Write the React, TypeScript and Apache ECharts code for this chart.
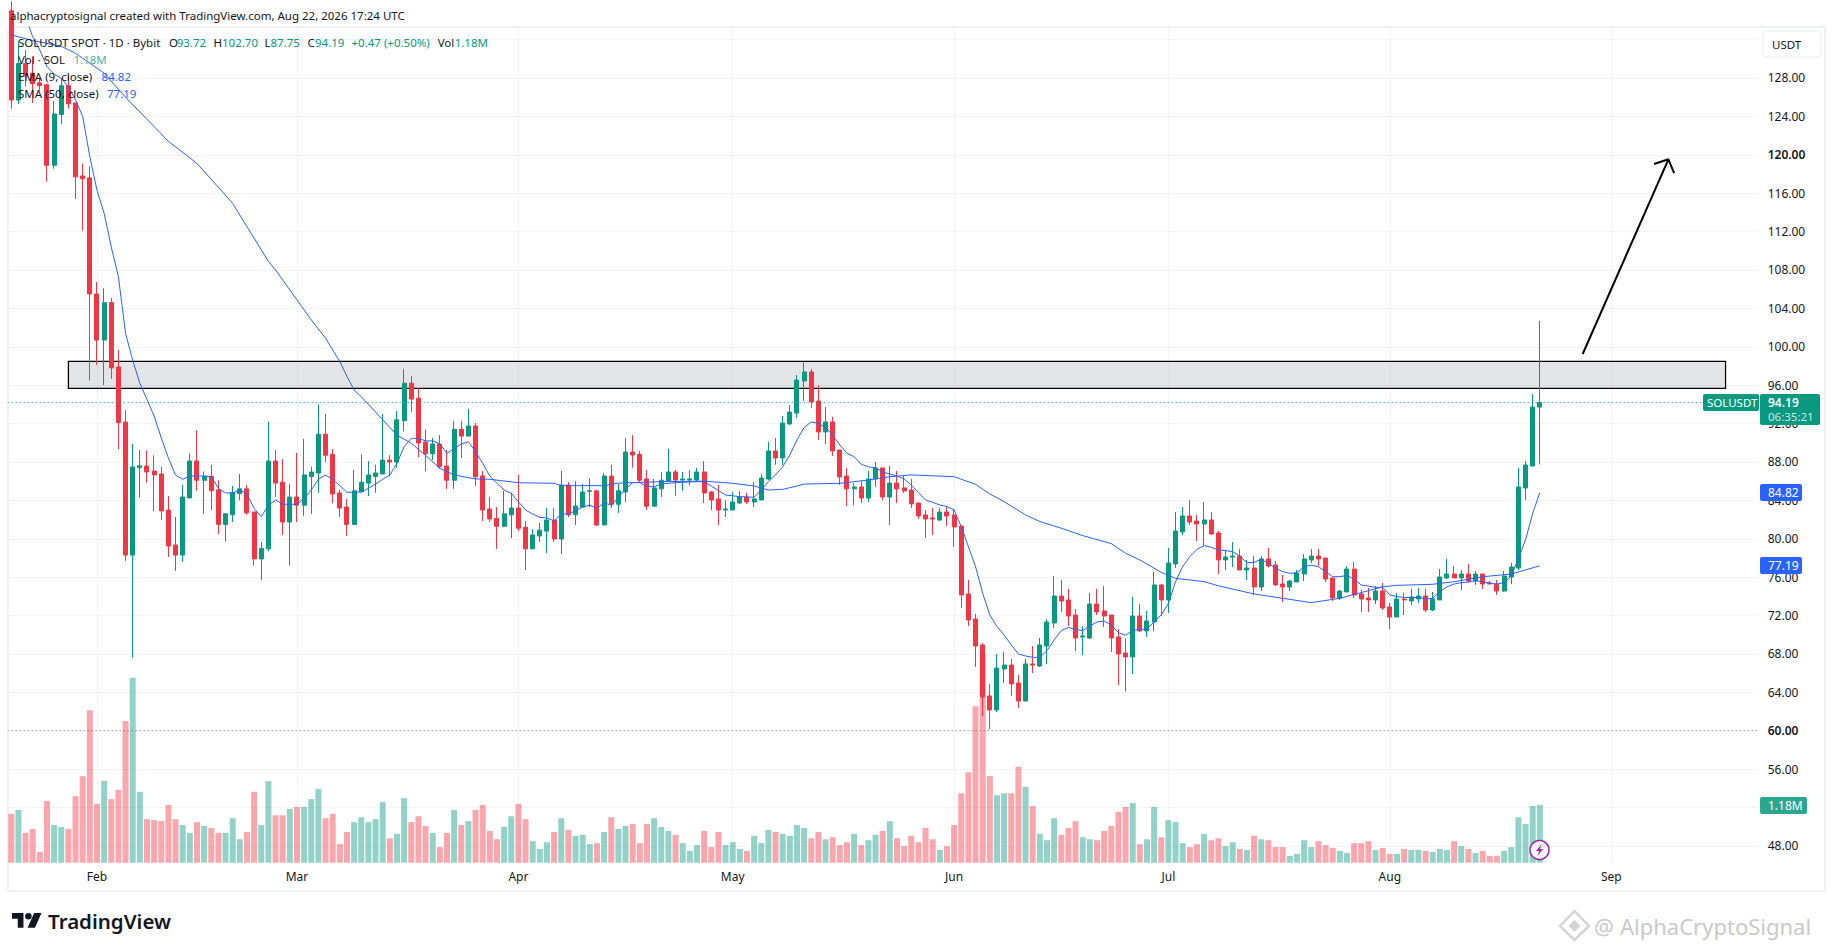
import {useEffect, useRef} from 'react';
import * as echarts from 'echarts';

const UP = '#089981';
const DOWN = '#F23645';
const BLUE = '#2962FF';
const TEXT = '#131722';
const GRID = '#f2f3f6';
const FONT = '"Noto Sans", sans-serif';

// one candle per day, first one is Jan 20
const opens = [
    135, 125.7, 129.5, 128.5, 127.5, 127.3, 118.9, 124.2, 127.2, 125.4,
    117.8, 117.6, 105.5, 100.7, 104.6, 97.9, 92.16, 78.3, 87.4, 87.58,
    87.06, 86.75, 82.99, 79.35, 78.3, 84.25, 88.1, 86.1, 86.5, 85.1,
    81.5, 82.5, 84.7, 85.2, 82.8, 77.9, 78.95, 88.1, 85.9, 81.75,
    84.35, 83.5, 86.5, 86.85, 90.9, 88.8, 84.77, 83.3, 81.5, 84.9,
    85.8, 86.5, 86.75, 88.2, 88, 92.3, 96.2, 94.65, 90.08, 88.85,
    89.87, 87.58, 86.1, 91.4, 90.7, 91.75, 86.55, 83.1, 82.15, 81.3,
    82.5, 83.2, 81.2, 78.95, 80.3, 80.8, 81.96, 79.98, 85.6, 82.5,
    83.3, 84.95, 85, 81.44, 86.54, 83.6, 84.87, 89.04, 88.8, 86.23,
    83.4, 85.2, 86.03, 86.96, 86.12, 86.12, 86.12, 86.96, 84.88, 84.15,
    83, 83, 83.73, 84.35, 83.83, 84.04, 86.23, 89.15, 88.42, 91.96,
    93.1, 96.44, 97.38, 94.35, 91.13, 92.17, 89.25, 86.54, 85.2, 85.4,
    84.25, 86.23, 87.38, 84.35, 85.8, 85.3, 85.08, 83.73, 82.48, 82.17,
    81.96, 82.79, 82.48, 81.33, 74.25, 71.65, 68.94, 63.63, 62.17, 66.44,
    66.85, 64.98, 63.1, 66.96, 66.75, 68.83, 71.23, 74.04, 73.63, 72.06,
    69.77, 69.67, 73.21, 72.48, 72.06, 69.77, 68.1, 67.69, 71.96, 70.4,
    71.33, 75.19, 73.63, 77.38, 80.71, 82.38, 81.85, 81.54, 81.96, 80.6,
    77.8, 78.1, 78.2, 76.75, 76.96, 74.98, 77.9, 77.27, 75.29, 74.98,
    75.5, 76.33, 77.79, 78.2, 78, 75.92, 73.83, 74.46, 76.85, 74.25,
    73.83, 73.63, 74.56, 72.9, 71.85, 73.73, 73.52, 73.73, 74.04, 72.58,
    73.63, 75.92, 76.33, 75.92, 76.33, 75.6, 76.33, 75.4, 75.29, 74.56,
    76.02, 76.96, 85.29, 87.58, 93.72
];
const closes = [
    125.7, 129.5, 128.2, 127.4, 127.2, 118.9, 124.25, 127.2, 125.3, 117.7,
    117.5, 105.5, 100.7, 104.6, 97.8, 92.1, 78.3, 87.48, 87.6, 86.96,
    86.65, 82.9, 79.25, 78.3, 84.35, 88.1, 86.1, 86.5, 85, 81.5,
    82.6, 84.8, 85.2, 82.7, 77.9, 79, 88.1, 85.8, 81.75, 84.35,
    83.5, 86.65, 86.95, 90.9, 88.7, 84.66, 83.2, 81.5, 85, 85.9,
    86.65, 86.85, 88.2, 88, 92.4, 96.2, 94.55, 89.98, 88.85, 89.87,
    87.5, 86.1, 91.4, 90.7, 91.75, 86.45, 83, 82.06, 81.3, 82.6,
    83.2, 81.1, 78.95, 80.4, 80.9, 81.96, 79.98, 85.6, 82.5, 83.4,
    84.87, 85, 81.44, 86.54, 83.6, 85, 89.04, 88.73, 86.1, 83.4,
    85.3, 86.1, 86.96, 86.12, 86.23, 86.23, 86.96, 84.77, 84.04, 83,
    83.1, 83.83, 84.35, 83.83, 84.15, 86.33, 89.15, 88.42, 92.06, 93.2,
    96.54, 97.38, 94.25, 91.13, 92.17, 89.15, 86.44, 85.2, 85.4, 84.25,
    86.23, 87.38, 84.35, 85.8, 85.2, 84.98, 83.63, 82.38, 82.06, 82.06,
    82.79, 82.38, 81.23, 74.15, 71.54, 68.83, 63.52, 62.17, 66.54, 66.85,
    64.88, 63.1, 66.96, 66.85, 68.94, 71.33, 74.04, 73.52, 71.96, 69.67,
    69.88, 73.21, 72.38, 71.96, 69.67, 68, 67.69, 71.96, 70.4, 71.44,
    75.19, 73.63, 77.48, 80.81, 82.38, 81.75, 81.54, 81.96, 80.5, 77.8,
    78.1, 78.2, 76.75, 76.96, 74.98, 77.9, 77.17, 75.19, 74.98, 75.6,
    76.44, 77.9, 78.2, 77.9, 75.81, 73.83, 74.56, 76.85, 74.15, 73.73,
    73.63, 74.56, 72.79, 71.85, 73.73, 73.63, 73.94, 74.04, 72.58, 73.73,
    76.02, 76.33, 75.92, 76.33, 75.6, 76.33, 75.29, 75.29, 74.56, 76.13,
    77.06, 85.4, 87.69, 93.73, 94.19
];
const lows = [
    124.8, 125.3, 127.1, 125.4, 126.7, 117.2, 118.55, 123.2, 124.8, 115.4,
    112.1, 96.5, 98.1, 96, 96.65, 89.35, 77.7, 67.6, 84.3, 85.85,
    82.9, 81.96, 78.1, 76.65, 77.6, 84.25, 85, 82.6, 83, 80.5,
    79.7, 81.75, 84, 82.5, 77.2, 75.7, 78.7, 84.35, 80.4, 77.2,
    81.75, 82.4, 82.6, 84.8, 88, 83.7, 82.27, 80.3, 81.5, 84.9,
    84.45, 84.8, 86.75, 86.5, 87.4, 91.2, 93.2, 88.5, 87.05, 88.2,
    87.3, 85.2, 85.2, 88.4, 90.7, 85.5, 81.85, 81.75, 78.95, 81.2,
    80.08, 80.8, 76.75, 78.95, 79.67, 78.5, 79.67, 78.4, 82.27, 81.44,
    83.3, 83.3, 81.33, 81.44, 83.2, 82.7, 83.8, 87.4, 85.9, 83,
    83.4, 84.35, 86.03, 84.46, 84.98, 85.6, 86, 83.73, 82.96, 81.44,
    82.27, 83, 83.63, 83.63, 83.31, 84.04, 86.12, 87.7, 87.7, 91.85,
    92.6, 94.35, 93.63, 90.3, 89.87, 88.63, 85.6, 83.4, 83.5, 83.73,
    83.83, 85.4, 84.04, 81.44, 83.73, 84.77, 83.2, 82.06, 80.08, 80.4,
    81.85, 81.33, 79.15, 72.79, 70.92, 66.65, 61.54, 60.15, 61.96, 64.98,
    63.63, 62.38, 63.1, 66.02, 66.65, 66.96, 70.71, 72.38, 70.92, 68.31,
    67.9, 69.56, 72.06, 70.81, 68.21, 64.77, 64.08, 65.92, 70.29, 69.77,
    70.4, 71.96, 72.27, 76.96, 80.4, 81.44, 79.77, 79.25, 80.4, 76.34,
    76.75, 77.06, 76.75, 75.7, 74.15, 74.56, 77, 75.08, 73.42, 74.56,
    75.5, 75.6, 77.48, 77.17, 75.5, 73.52, 73.63, 74.46, 73.83, 72.38,
    72.38, 73.2, 72.58, 70.6, 71.85, 72.06, 73.1, 73.31, 72.38, 72.48,
    73.63, 75.8, 75.92, 74.67, 75.4, 75.19, 74.77, 75.29, 74.15, 74.46,
    75.29, 76.75, 84.04, 87.58, 87.75
];
const highs = [
    136, 131.8, 130.9, 130.2, 128, 127.4, 125.6, 127.9, 128.3, 125.4,
    119.1, 118.8, 106.75, 106.1, 105.1, 99.66, 93.4, 89.87, 89.25, 89.2,
    88.7, 87.5, 84.46, 82.27, 85.6, 88.9, 91.3, 87, 87.7, 86.1,
    82.7, 85.5, 86.75, 85.6, 82.8, 79.7, 92.2, 89.25, 88.3, 85.7,
    88.95, 90.4, 87.5, 94, 93, 89.35, 85.1, 84.15, 87.2, 88.8,
    88.1, 87.7, 93, 88.7, 93.3, 97.7, 96.95, 95.7, 91.4, 90.5,
    90.8, 89.25, 92.27, 92.27, 93.5, 92.06, 87.06, 84.35, 83.3, 85,
    84.8, 86.65, 81.85, 81, 81.65, 83.2, 83.2, 87.06, 85.9, 86,
    85.7, 86.3, 85, 86.85, 87.7, 85.7, 90.5, 90.8, 89.15, 87.17,
    86.23, 86.96, 89.35, 87.17, 86.96, 87.17, 87.38, 88.1, 84.98, 85.6,
    84.04, 84.88, 84.98, 84.77, 85.92, 86.75, 90.08, 90.5, 92.8, 93.94,
    97.06, 98.4, 97.7, 96, 93.73, 92.7, 89.25, 87.38, 85.8, 86,
    87.06, 88, 87.38, 87.6, 87.06, 86.54, 86.23, 83.73, 83, 83.2,
    83.2, 83.4, 83.1, 81.33, 75.71, 72.17, 69.15, 64.88, 68, 68.21,
    67.48, 65.81, 67.48, 68.83, 69.67, 71.6, 76.1, 75.71, 74.77, 72.69,
    70.92, 74.35, 74.77, 75.08, 72.06, 70.6, 69.67, 73.94, 73.21, 72.48,
    76.54, 75.29, 79.04, 82.79, 83.31, 84.04, 82.48, 83.83, 82.79, 80.81,
    78.83, 79.67, 78.94, 77.8, 78.2, 78.2, 79.04, 77.69, 76.23, 75.71,
    76.75, 78.42, 78.94, 78.94, 78, 75.92, 74.67, 77.17, 77.58, 74.67,
    74.875, 75.08, 75.4, 73.31, 74.35, 74.35, 74.77, 74.875, 74.77, 74.46,
    76.85, 77.9, 77.17, 76.75, 77.38, 76.65, 76.33, 75.6, 75.71, 76.65,
    77.48, 87.38, 88.1, 95.08, 102.7
];

// volume in millions
const volumes = [
    1, 1.08, 0.61, 0.69, 0.22, 1.26, 0.77, 0.73, 0.69, 1.36,
    1.77, 3.12, 1.2, 1.67, 1.3, 1.49, 2.9, 3.78, 1.45, 0.89,
    0.87, 0.85, 1.18, 0.89, 0.77, 0.61, 0.83, 0.75, 0.71, 0.61,
    0.61, 0.91, 0.48, 0.63, 1.45, 0.77, 1.67, 0.97, 0.97, 1.1,
    1.14, 1.14, 1.3, 1.51, 0.91, 1, 0.38, 0.63, 0.83, 0.93,
    0.83, 0.89, 1.24, 0.5, 0.59, 1.32, 0.83, 0.95, 0.75, 0.61,
    0.32, 0.61, 1.08, 0.77, 0.85, 1.08, 1.18, 0.65, 0.48, 0.73,
    0.95, 1.2, 0.89, 0.44, 0.28, 0.42, 0.63, 0.91, 0.67, 0.55,
    0.57, 0.38, 0.4, 0.63, 0.93, 0.69, 0.75, 0.79, 0.4, 0.79,
    0.91, 0.73, 0.65, 0.57, 0.4, 0.24, 0.36, 0.65, 0.32, 0.63,
    0.36, 0.42, 0.28, 0.24, 0.55, 0.4, 0.67, 0.63, 0.59, 0.55,
    0.77, 0.71, 0.5, 0.63, 0.48, 0.52, 0.36, 0.42, 0.59, 0.36,
    0.46, 0.57, 0.65, 0.85, 0.5, 0.34, 0.55, 0.42, 0.71, 0.48,
    0.26, 0.34, 0.77, 1.42, 1.85, 3.2, 4.27, 1.77, 1.38, 1.42,
    1.42, 1.96, 1.55, 1.16, 0.59, 0.46, 0.91, 0.57, 0.71, 0.85,
    0.52, 0.48, 0.46, 0.65, 0.75, 1.04, 1.14, 1.22, 0.38, 0.48,
    1.14, 0.52, 0.87, 0.83, 0.4, 0.32, 0.38, 0.59, 0.46, 0.5,
    0.34, 0.42, 0.28, 0.26, 0.55, 0.48, 0.46, 0.32, 0.32, 0.14,
    0.18, 0.46, 0.32, 0.44, 0.36, 0.3, 0.24, 0.2, 0.4, 0.4,
    0.44, 0.26, 0.3, 0.18, 0.18, 0.28, 0.26, 0.26, 0.24, 0.22,
    0.28, 0.26, 0.44, 0.34, 0.28, 0.2, 0.24, 0.14, 0.14, 0.24,
    0.32, 0.93, 0.79, 1.16, 1.18
];

// [day index, value]
const emaPoints = [
    [0, 137.5], [2, 134.3], [3, 132.3], [4, 130.9], [5, 129.2], [6, 128.4], [7, 127.96], [8, 127.1], [9, 125.7], [10, 124],
    [11, 119.8], [12, 116.3], [13, 113.9], [14, 110.4], [15, 107.3], [16, 101.4], [17, 98.6], [18, 96.2], [19, 94.5], [20, 92.8],
    [21, 90.5], [22, 88.4], [23, 86.64], [24, 86.2], [25, 86.54], [27, 86.54], [28, 86.47], [29, 85.25], [30, 84.77], [31, 84.77],
    [32, 85.08], [33, 84.66], [34, 83.17], [35, 82.3], [36, 83.5], [37, 84.04], [38, 83.6], [40, 83.6], [41, 84.2], [42, 85.08],
    [43, 86.2], [44, 86.64], [45, 86.2], [46, 85.53], [47, 84.84], [49, 84.87], [50, 85.25], [51, 85.7], [52, 86.2], [53, 86.64],
    [54, 87.86], [55, 89.6], [56, 90.46], [57, 90.46], [58, 90.2], [59, 90.2], [60, 89.87], [61, 88.9], [62, 89.4], [63, 89.87],
    [64, 90.1], [65, 89.07], [66, 87.86], [67, 86.54], [68, 85.78], [69, 85.08], [70, 84.74], [71, 83.87], [72, 83], [73, 82.58],
    [74, 82.23], [75, 82.17], [76, 81.85], [77, 82.58], [78, 82.58], [79, 82.93], [80, 83.3], [81, 83.5], [82, 83.17], [83, 83.76],
    [84, 83.5], [85, 84.3], [86, 85.2], [87, 85.85], [88, 85.85], [89, 85.43], [90, 85.43], [91, 85.71], [93, 85.85], [96, 85.95],
    [97, 85.95], [98, 85.5], [100, 84.56], [102, 84.39], [104, 84.32], [105, 85.08], [106, 85.95], [107, 86.65], [108, 87.5], [109, 88.73],
    [110, 90.3], [111, 91.6], [112, 92.17], [113, 92.03], [114, 91.6], [115, 90.8], [116, 89.77], [117, 88.9], [118, 88.56], [119, 87.76],
    [120, 87.48], [121, 87.4], [122, 86.96], [123, 86.75], [124, 86.54], [125, 86.23], [126, 85.6], [127, 84.81], [128, 84.04], [129, 83.8],
    [130, 83.52], [131, 83.35], [132, 83], [133, 81.27], [134, 79.18], [135, 77.1], [136, 74.32], [137, 72.06], [138, 70.85], [139, 69.98],
    [140, 68.94], [141, 68], [142, 67.79], [143, 67.65], [144, 67.65], [145, 68.35], [146, 69.46], [147, 70.43], [148, 70.78], [149, 70.57],
    [150, 70.43], [151, 70.92], [152, 71.33], [153, 71.44], [154, 71.02], [155, 70.22], [156, 69.95], [157, 70.43], [158, 70.57], [159, 70.57],
    [160, 71.37], [161, 72.06], [162, 73.28], [163, 75.54], [164, 77.1], [165, 78.14], [166, 78.9], [167, 79.29], [168, 79.11], [169, 78.83],
    [170, 78.77], [171, 78.66], [172, 78.2], [173, 77.5], [174, 77.55], [175, 77.86], [176, 77.45], [177, 76.92], [178, 76.58], [179, 76.4],
    [180, 76.47], [181, 77.1], [182, 77.24], [183, 77.1], [184, 76.58], [185, 76.05], [186, 76.05], [187, 76.2], [188, 75.78], [189, 75.19],
    [190, 75.08], [191, 74.94], [192, 74.94], [193, 74.15], [194, 73.97], [195, 73.9], [196, 73.87], [197, 73.9], [198, 73.73], [199, 73.8],
    [200, 74.5], [201, 75], [202, 75.29], [203, 75.43], [204, 75.5], [205, 75.64], [206, 75.53], [207, 75.36], [208, 75.29], [209, 75.43],
    [210, 76.13], [211, 77.97], [212, 79.9], [213, 82.65], [214, 84.82]
];
const smaPoints = [
    [0, 132.48], [3, 131.9], [7, 131.3], [9, 130.57], [13, 128.5], [16, 126], [22, 121.4], [26, 119.1], [31, 114.94], [33, 112.5],
    [36, 108.9], [37, 108], [42, 102.8], [44, 100.9], [46, 98.45], [47, 96.9], [48, 95.5], [49, 94.8], [52, 92.4], [54, 90.8],
    [56, 89.95], [58, 88.7], [60, 87.34], [62, 86.65], [65, 86.23], [67, 86.2], [71, 85.84], [76, 85.78], [77, 85.53], [83, 85.53],
    [85, 85.8], [91, 85.95], [97, 86], [101, 85.78], [104, 85.5], [106, 85.08], [108, 85.15], [110, 85.5], [111, 85.7], [116, 85.78],
    [120, 86.12], [123, 86.47], [126, 86.65], [132, 86.47], [135, 85.67], [137, 84.67], [139, 83.87], [142, 82.48], [144, 81.8], [147, 81.1],
    [150, 80.33], [154, 79.5], [156, 78.49], [158, 77.8], [161, 76.5], [163, 75.88], [167, 75.54], [169, 75.1], [174, 74.25], [182, 73.35],
    [186, 73.8], [192, 75], [194, 75.15], [199, 75.26], [202, 75.53], [206, 76.05], [210, 76.33], [214, 77.19]
];

const lastPrice = 94.19;
const lowLine = 60.1;
const zoneFrom = [8, 98.49];
const zoneTo = [240, 95.68];
const arrowShaft = [[220, 99.25], [232, 119.53]];
const arrowHead = [[230, 119.04], [232, 119.53], [232.8, 118.1]];

// gridlines run on all of these, 52 and 132 have their label covered in the screenshot
const priceTicks = [48, 52, 56, 60, 64, 68, 72, 76, 80, 84, 88, 92, 96, 100, 104, 108, 112, 116, 120, 124, 128, 132];
const priceLabels = [48, 56, 60, 64, 68, 72, 76, 80, 84, 88, 92, 96, 100, 104, 108, 112, 116, 120, 124, 128];
const strongTicks = [60, 120];
const monthTicks = [12, 40, 71, 101, 132, 162, 193, 224];
const monthNames = ['Feb', 'Mar', 'Apr', 'May', 'Jun', 'Jul', 'Aug', 'Sep'];

const DAY_SLOTS = 245;
const days = Array.from({length: DAY_SLOTS}, (_, i) => `d${i}`);

echarts.graphic.registerShape('tvLogo', echarts.graphic.extendPath('M14 6H0v7h7v11h7Z M36 6h-9l-8 18h9Z M24 10a4 4 0 1 1-8 0a4 4 0 1 1 8 0Z', {}) as any);

const label = (x: number, y: number, text: string, fill: string, extra: object = {}) => ({
    type: 'text', x, y, z: 50,
    style: {text, fill, font: `11.5px ${FONT}`, verticalAlign: 'middle', ...extra}
});

const badge = (x: number, y: number, width: number, height: number, fill: string) => ({
    type: 'rect', z: 49,
    shape: {x, y, width, height, r: 2},
    style: {fill}
});

function overlays(): any[] {
    return [
        {type: 'rect', z: 0, shape: {x: 8, y: 27, width: 1817, height: 864}, style: {fill: 'none', stroke: '#f0f1f4', lineWidth: 2}},
        label(10, 15, 'alphacryptosignal created with TradingView.com, Aug 22, 2026 17:24 UTC', TEXT),

        label(18, 42, 'SOLUSDT SPOT · 1D · Bybit', TEXT),
        label(169, 42, 'O', TEXT), label(176.7, 42, '93.72', UP),
        label(213.5, 42, 'H', TEXT), label(222, 42, '102.70', UP),
        label(264.5, 42, 'L', TEXT), label(270.5, 42, '87.75', UP),
        label(307.6, 42, 'C', TEXT), label(315, 42, '94.19', UP),
        label(351.5, 42, '+0.47 (+0.50%)', UP),
        label(437.7, 42, 'Vol', TEXT), label(454.7, 42, '1.18M', UP),
        label(18, 59, 'Vol · SOL', TEXT), label(73.5, 59, '1.18M', '#4fb5a2'),
        label(18, 76, 'EMA (9, close)', TEXT), label(101.6, 76, '84.82', BLUE),
        label(18, 93, 'SMA (50, close)', TEXT), label(107, 93, '77.19', BLUE),

        {type: 'rect', z: 49, shape: {x: 1763, y: 31, width: 58, height: 26, r: 4}, style: {fill: '#fff', stroke: '#eceef2', lineWidth: 1}},
        label(1772, 44, 'USDT', TEXT),

        badge(1703, 394, 56, 17, UP),
        label(1707, 402.7, 'SOLUSDT', '#fff'),
        badge(1760, 394, 60, 31, UP),
        label(1768, 402.7, '94.19', '#fff', {font: `600 12px ${FONT}`}),
        label(1768, 416.7, '06:35:21', 'rgba(255,255,255,0.8)'),
        badge(1760, 484, 42, 17, BLUE),
        label(1768, 492.7, '84.82', '#fff', {font: `12px ${FONT}`}),
        badge(1760, 557, 42, 17, BLUE),
        label(1768, 565.7, '77.19', '#fff', {font: `12px ${FONT}`}),
        badge(1760, 797, 47, 17, '#2ba68f'),
        label(1768, 805.7, '1.18M', '#fff', {font: `12px ${FONT}`}),

        {type: 'circle', z: 49, shape: {cx: 1539.5, cy: 850, r: 9.5}, style: {fill: '#fff', stroke: '#9c27b0', lineWidth: 1.5}},
        {type: 'polygon', z: 50, shape: {points: [[1541.5, 844], [1536, 851], [1539, 851], [1537.5, 856], [1543, 849], [1540, 849]]}, style: {fill: '#9c27b0'}},

        {type: 'tvLogo', z: 50, x: 12, y: 908, scaleX: 0.82, scaleY: 0.82, style: {fill: TEXT}},
        label(48, 921, 'TradingView', TEXT, {font: `600 20.5px ${FONT}`}),

        {type: 'polygon', z: 50, shape: {points: [[1574.5, 911], [1589, 926], [1574.5, 940], [1560, 926]]}, style: {fill: 'none', stroke: '#d4d4d4', lineWidth: 2.5}},
        {type: 'polygon', z: 50, shape: {points: [[1574.5, 920], [1580.5, 926], [1574.5, 932], [1568.5, 926]]}, style: {fill: '#d4d4d4'}},
        label(1594, 926, '@', '#c9c9c9', {font: `22px ${FONT}`}),
        label(1620, 926, 'AlphaCryptoSignal', '#c9c9c9', {font: `22px ${FONT}`})
    ];
}

export default function App() {
    const ref = useRef<HTMLDivElement | null>(null);

    useEffect(() => {
        document.body.style.margin = '0';
        if (!ref.current) return;
        const chart = echarts.init(ref.current, undefined, {renderer: 'svg'});
        chart.setOption({
            animation: false,
            backgroundColor: '#fff',
            textStyle: {fontFamily: FONT},
            grid: {left: 7.7, width: 1750, top: 27, height: 835.7, containLabel: false},
            xAxis: [
                {type: 'category', data: days, show: false},
                {
                    type: 'value', min: -0.5, max: DAY_SLOTS - 0.5, position: 'bottom',
                    axisLine: {show: false},
                    axisTick: {show: false, customValues: monthTicks},
                    splitLine: {show: true, lineStyle: {color: GRID, width: 1}},
                    axisLabel: {
                        customValues: monthTicks, margin: 8, fontSize: 12, color: TEXT, fontFamily: FONT,
                        formatter: (v: number) => monthNames[monthTicks.indexOf(v)] ?? ''
                    }
                }
            ],
            yAxis: [
                {
                    type: 'value', min: 46.26, max: 133.31, position: 'right',
                    axisLine: {show: false},
                    axisTick: {show: false, customValues: priceTicks},
                    splitLine: {show: true, lineStyle: {color: GRID, width: 1}},
                    axisLabel: {
                        customValues: priceLabels, margin: 10, fontSize: 12, color: TEXT, fontFamily: FONT,
                        formatter: (v: number) => strongTicks.includes(v) ? `{b|${v.toFixed(2)}}` : v.toFixed(2),
                        rich: {b: {fontWeight: 600, fontSize: 12, color: TEXT, fontFamily: FONT}}
                    }
                },
                {type: 'value', min: 0, max: 17.09, show: false}
            ],
            series: [
                {
                    name: 'Vol', type: 'bar', xAxisIndex: 0, yAxisIndex: 1, barWidth: 6, z: 1,
                    data: volumes.map((v, i) => ({
                        value: v,
                        itemStyle: {color: closes[i] >= opens[i] ? 'rgba(8,153,129,0.44)' : 'rgba(242,54,69,0.44)'}
                    }))
                },
                {
                    name: 'zone', type: 'line', xAxisIndex: 0, yAxisIndex: 0, data: [], z: 2,
                    markArea: {
                        silent: true,
                        itemStyle: {color: 'rgba(120,123,134,0.2)', borderColor: '#000', borderWidth: 1.25},
                        data: [[{coord: zoneFrom}, {coord: zoneTo}]]
                    }
                },
                {
                    name: 'SOLUSDT', type: 'candlestick', xAxisIndex: 0, yAxisIndex: 0, barWidth: 4.5, z: 3,
                    itemStyle: {color: UP, color0: DOWN, borderColor: UP, borderColor0: DOWN, borderWidth: 1},
                    data: opens.map((o, i) => [o, closes[i], lows[i], highs[i]]),
                    markLine: {
                        silent: true, symbol: 'none', label: {show: false},
                        data: [
                            {yAxis: lastPrice, lineStyle: {color: UP, type: [1, 3], width: 1}},
                            {yAxis: lowLine, lineStyle: {color: '#787b86', type: [1, 3], width: 1}}
                        ]
                    }
                },
                {
                    name: 'EMA', type: 'line', xAxisIndex: 1, yAxisIndex: 0, data: emaPoints, z: 4,
                    showSymbol: false, lineStyle: {color: BLUE, width: 1}
                },
                {
                    name: 'SMA', type: 'line', xAxisIndex: 1, yAxisIndex: 0, data: smaPoints, z: 4,
                    showSymbol: false, lineStyle: {color: BLUE, width: 1}
                },
                {
                    name: 'arrow', type: 'line', xAxisIndex: 1, yAxisIndex: 0, data: arrowShaft, z: 5,
                    showSymbol: false, lineStyle: {color: '#000', width: 2}
                },
                {
                    name: 'arrowHead', type: 'line', xAxisIndex: 1, yAxisIndex: 0, data: arrowHead, z: 5,
                    showSymbol: false, lineStyle: {color: '#000', width: 2}
                }
            ],
            graphic: overlays()
        });
        return () => chart.dispose();
    }, []);

    return <div ref={ref} style={{width: 1835, height: 951}}/>;
}
